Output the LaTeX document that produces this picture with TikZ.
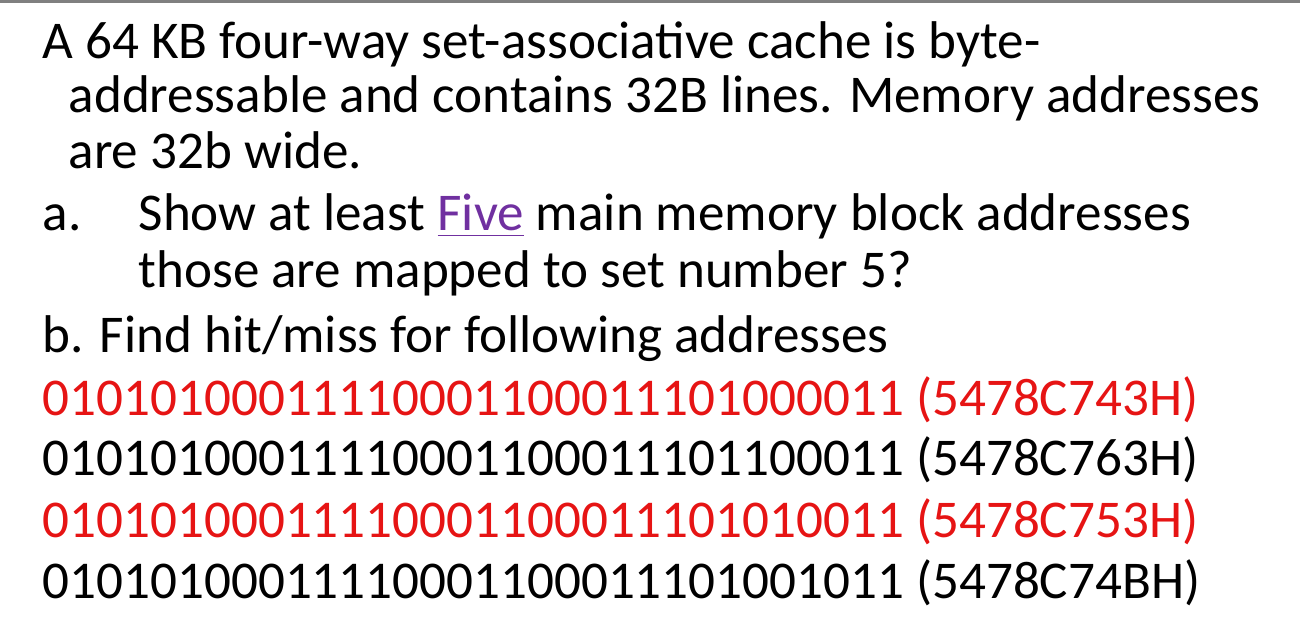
\documentclass[tikz,border=0pt]{standalone}
\usepackage{fontspec}
\setmainfont{Carlito}
\usepackage{tikz}
\definecolor{addrred}{RGB}{230,20,20}
\definecolor{linkpurple}{RGB}{112,48,160}
\begin{document}
\begin{tikzpicture}[x=0.01cm,y=-0.01cm,
    line/.style={anchor=base west, inner sep=0pt, font=\fontsize{15.1pt}{18pt}\selectfont}]
    % Frame
    \useasboundingbox (0,0) rectangle (1300,630);
    \draw[gray, line width=1.5pt] (0,0) -- (1300,0);

    % Question text
    \node[line] (q1) at (42,58) {A 64 KB four-way set-associative cache is byte-};
    \node[line] (q2) at (68,112) {addressable and contains 32B lines. Memory addresses};
    \node[line] (q3) at (68,168) {are 32b wide.};

    % Part a
    \node[line] (pa) at (42,230) {a.};
    \node[line] (pa1) at (138,230) {Show at least \textcolor{linkpurple}{\underline{Five}} main memory block addresses};
    \node[line] (pa2) at (138,287) {those are mapped to set number 5?};

    % Part b
    \node[line] (pb) at (42,352) {b. Find hit/miss for following addresses};
    \node[line, text=addrred] (ad1) at (42,415) {01010100011110001100011101000011 (5478C743H)};
    \node[line] (ad2) at (42,475) {01010100011110001100011101100011 (5478C763H)};
    \node[line, text=addrred] (ad3) at (42,537) {01010100011110001100011101010011 (5478C753H)};
    \node[line] (ad4) at (42,598) {01010100011110001100011101001011 (5478C74BH)};
\end{tikzpicture}
\end{document}
